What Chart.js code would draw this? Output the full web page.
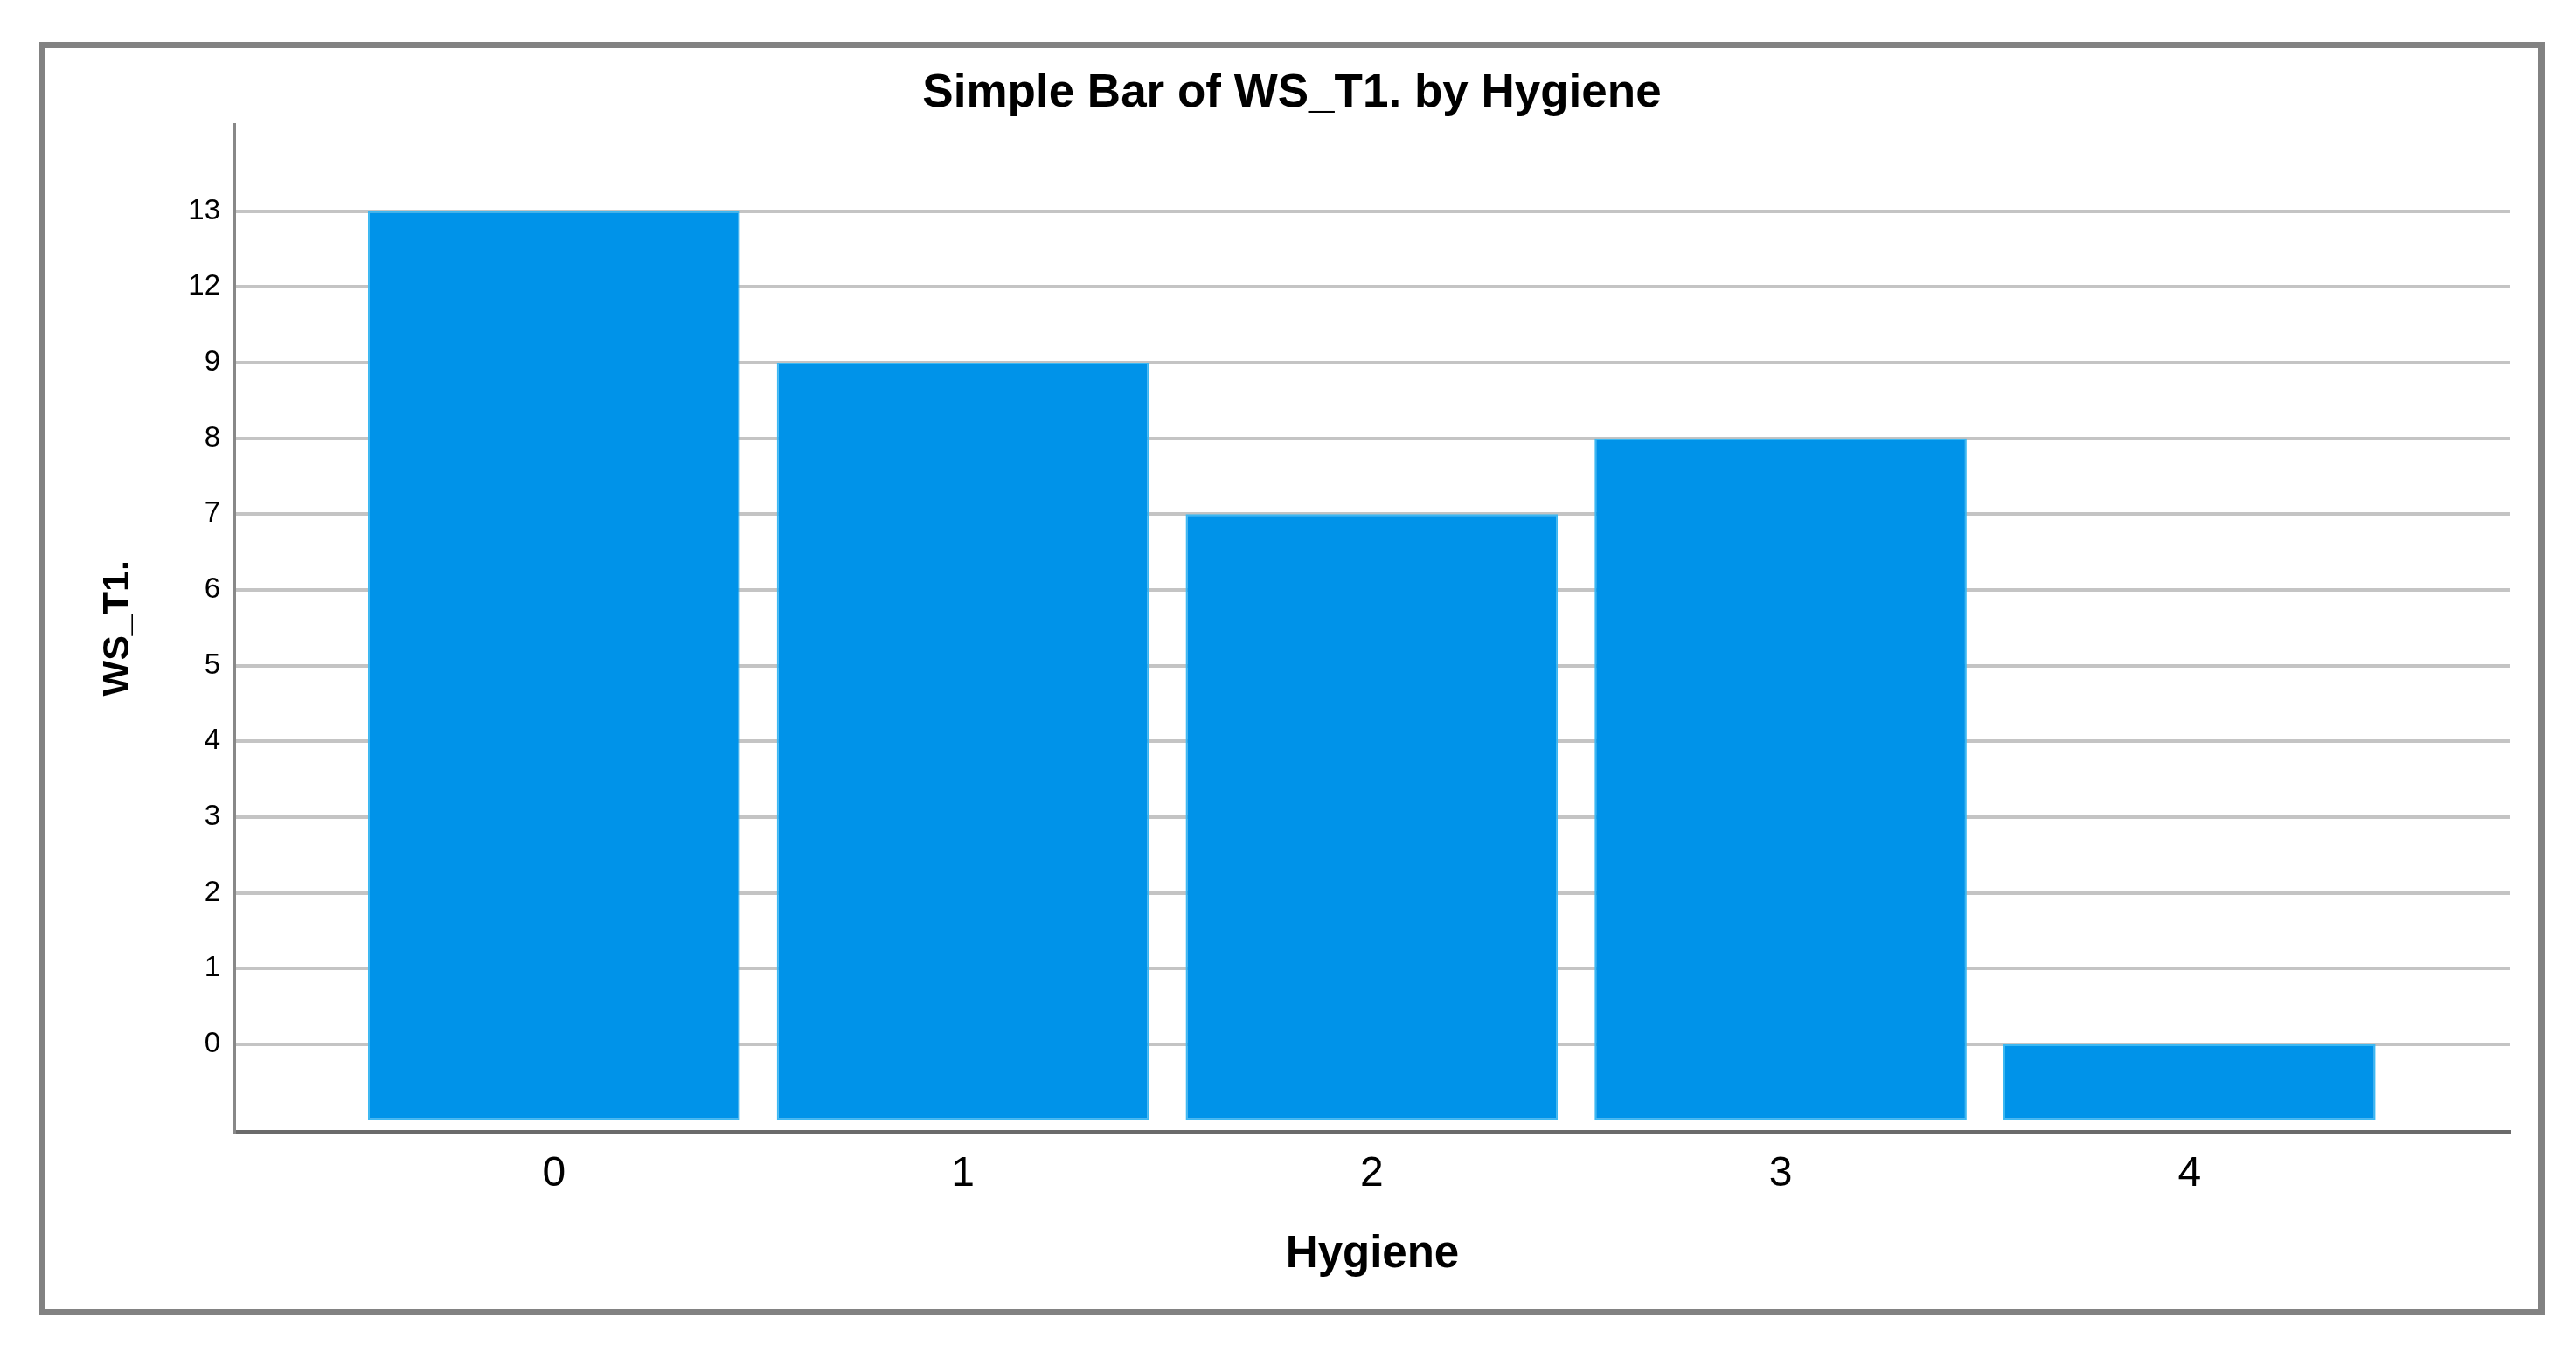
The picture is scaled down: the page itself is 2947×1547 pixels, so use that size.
<!DOCTYPE html>
<html>
<head>
<meta charset="utf-8">
<script src="https://cdn.jsdelivr.net/npm/chart.js@4/dist/chart.umd.min.js"></script>
<style>
  html, body { margin: 0; padding: 0; background: #fff; }
  #wrap { position: relative; width: 2947px; height: 1547px; }
  #frame {
    position: absolute; left: 45px; top: 48px; width: 2866px; height: 1457px;
    border: 7px solid #828282; box-sizing: border-box; pointer-events: none;
  }
</style>
</head>
<body>
<div id="wrap">
  <canvas id="chart"></canvas>
  <div id="frame"></div>
</div>
<script>
// Hygiene categories on the x axis
var categories = ['0', '1', '2', '3', '4'];
// SPSS draws WS_T1. as a category axis: these are its labels, bottom to top
var tickLabels = ['0', '1', '2', '3', '4', '5', '6', '7', '8', '9', '12', '13'];
// WS_T1. value read for each Hygiene category
var wsValues = ['13', '9', '7', '8', '0'];

var barData = categories.map(function(c, i) {
  return { x: i, y: tickLabels.indexOf(wsValues[i]) };
});

var ctx = document.getElementById('chart');

var chart = new Chart(ctx, {
  type: 'bar',
  data: {
    datasets: [{
      data: barData,
      backgroundColor: '#0093e9',
      borderColor: '#3cb8f2',
      borderWidth: 2,
      borderSkipped: false,
      base: -1,
      categoryPercentage: 1,
      barPercentage: 0.91
    }]
  },
  options: {
    responsive: true,
    maintainAspectRatio: false,
    animation: false,
    devicePixelRatio: 1,
    // left padding keeps the title centred on the page like the original
    layout: { padding: { left: 84, top: 0, right: 75, bottom: 0 } },
    plugins: {
      legend: { display: false },
      tooltip: { enabled: false },
      title: {
        display: true,
        text: 'Simple Bar of WS_T1. by Hygiene',
        color: '#000',
        font: { family: 'Liberation Sans', size: 53, weight: 'bold', lineHeight: 1.2 },
        padding: { top: 76, bottom: 3 }
      }
    },
    scales: {
      x: {
        type: 'linear',
        offset: false,
        min: -0.782,
        max: 4.785,
        afterBuildTicks: function(scale) {
          scale.ticks = categories.map(function(c, i) { return { value: i }; });
        },
        afterFit: function(scale) { scale.height = 252; },
        grid: { display: false, drawTicks: false, offset: false },
        border: { display: true, color: '#6b6b6b', width: 4 },
        ticks: {
          color: '#000',
          padding: 20,
          maxRotation: 0,
          font: { family: 'Liberation Sans', size: 48 },
          callback: function(v) { return categories[v]; }
        },
        title: {
          display: true,
          text: 'Hygiene',
          color: '#000',
          font: { family: 'Liberation Sans', size: 51, weight: 'bold', lineHeight: 1.2 },
          padding: { top: 0, bottom: 80 }
        }
      },
      y: {
        type: 'linear',
        min: -1.155,
        max: 12.143,
        afterBuildTicks: function(scale) {
          scale.ticks = tickLabels.map(function(t, i) { return { value: i }; });
        },
        afterFit: function(scale) { scale.width = 184; },
        grid: { color: '#c4c4c4', lineWidth: 4, drawTicks: false },
        border: { display: true, color: '#888888', width: 4 },
        ticks: {
          color: '#000',
          padding: 16,
          font: { family: 'Liberation Sans', size: 33 },
          callback: function(v) { return tickLabels[v]; }
        },
        title: {
          display: true,
          text: 'WS_T1.',
          color: '#000',
          font: { family: 'Liberation Sans', size: 43, weight: 'bold', lineHeight: 1.2 },
          padding: { top: 25, bottom: 0 }
        }
      }
    }
  }
});
</script>
</body>
</html>
